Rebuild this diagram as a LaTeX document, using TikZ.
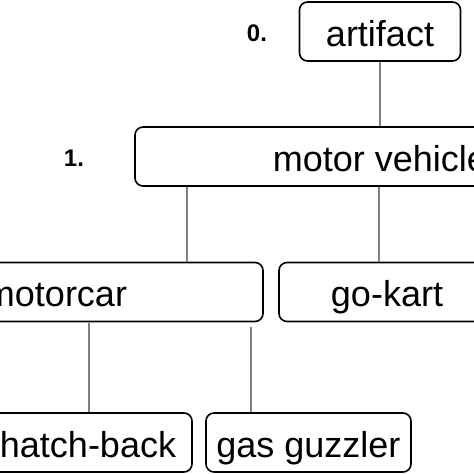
\documentclass[tikz,border=0pt]{standalone}
\usepackage{fontspec}
\setmainfont{Liberation Sans}
\usepackage{tikz}
\usetikzlibrary{positioning, calc}
\definecolor{linkgray}{HTML}{808080}

\begin{document}
\begin{tikzpicture}[
    x=1pt, y=-1pt,
    termbox/.style={draw=black, line width=1.6pt, rounded corners=8pt, fill=white,
                 minimum height=59pt, inner sep=0pt, text height=29pt, text depth=0pt,
                 font=\fontsize{36}{40}\selectfont},
    levellabel/.style={font=\fontsize{24}{28}\selectfont\bfseries},
    hyplink/.style={linkgray, line width=1.4pt},
]
    \useasboundingbox (0,0) rectangle (474,474);
    \clip (0,0) rectangle (474,474);

    \node[termbox, minimum width=161pt] (art) at (380, 31.5) {artifact};
    \node[termbox, minimum width=490pt] (mv) at (380, 156.5) {motor vehicle};
    \node[termbox, minimum width=414pt] (mc) at (56, 292) {motorcar};
    \node[termbox, minimum width=216pt] (gk) at (387, 292) {go-kart};
    \node[termbox, minimum width=208pt] (hb) at (88, 442.5) {hatch-back};
    \node[termbox, minimum width=205pt] (gg) at (308.5, 442.5) {gas guzzler};

    % Levels
    \node[levellabel] (lv0) at (257, 33) {0.};
    \node[levellabel] (lv1) at (74, 158) {1.};

    % Links
    \coordinate (x1) at (187, 0);
    \coordinate (x2) at (379, 0);
    \coordinate (x3) at (89, 0);
    \coordinate (x4) at (251, 0);
    \draw[hyplink] (art.south) -- (mv.north);
    \draw[hyplink] (mv.south -| x1) -- (mc.north -| x1);
    \draw[hyplink] (mv.south -| x2) -- (gk.north -| x2);
    \draw[hyplink] ($(mc.south -| x3)+(0,1)$) -- (hb.north -| x3);
    \draw[hyplink] ($(mc.south -| x4)+(0,5)$) -- (gg.north -| x4);
\end{tikzpicture}
\end{document}
